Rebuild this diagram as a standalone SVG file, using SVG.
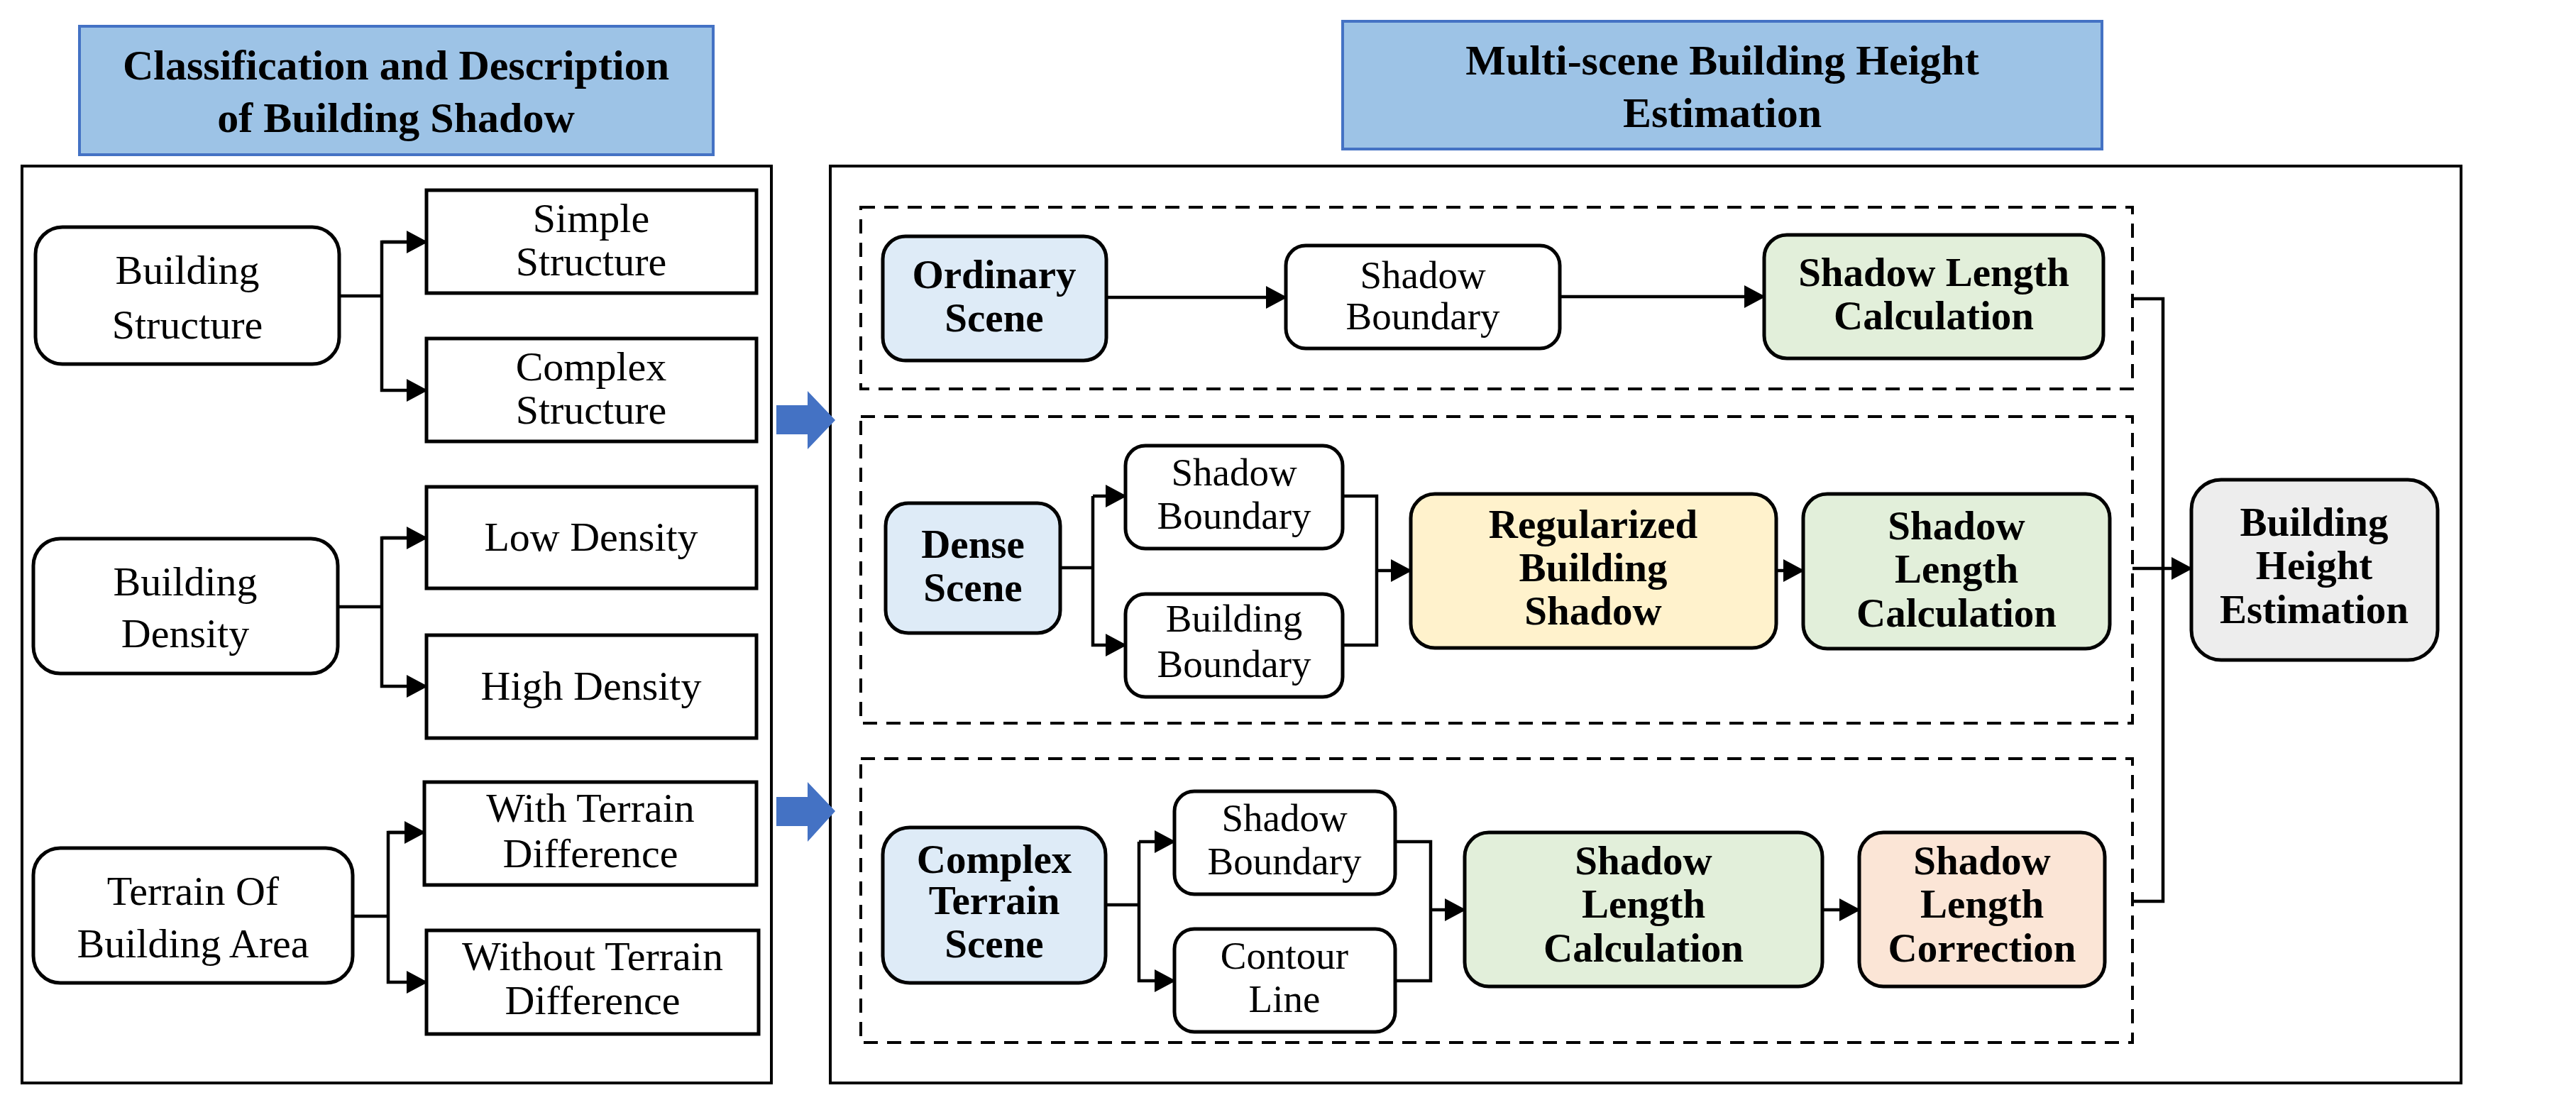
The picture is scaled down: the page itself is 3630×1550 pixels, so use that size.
<svg xmlns="http://www.w3.org/2000/svg" width="3630" height="1550" viewBox="0 0 3630 1550">
<style>
text{font-family:"Liberation Serif","Times New Roman",serif;text-anchor:middle;fill:#000}
.t{font-size:60px;font-weight:bold}
.l{font-size:58px}
.r{font-size:55px}
.b{font-size:57px;font-weight:bold}
.box{fill:#fff;stroke:#000;stroke-width:5}
.dash{fill:none;stroke:#000;stroke-width:4;stroke-dasharray:20 13}
.c{fill:none;stroke:#000;stroke-width:4.5}
.ttl{fill:#9dc3e6;stroke:#4472c4;stroke-width:4}
</style>
<defs>
<marker id="a" markerUnits="userSpaceOnUse" markerWidth="30" markerHeight="32" refX="28" refY="16" orient="auto"><path d="M0,0L30,16L0,32Z" fill="#000"/></marker>
</defs>
<g id="title-left"><rect class="ttl" x="112" y="37" width="893" height="181"/><text class="t" x="558" y="112">Classification and Description</text><text class="t" x="558" y="186">of Building Shadow</text></g>
<g id="title-right"><rect class="ttl" x="1892" y="30" width="1070" height="180"/><text class="t" x="2427" y="105">Multi-scene Building Height</text><text class="t" x="2427" y="179">Estimation</text></g>
<g id="panel-left"><rect x="31" y="234" width="1056" height="1292" fill="none" stroke="#000" stroke-width="4"/></g>
<g id="panel-right"><rect x="1170" y="234" width="2298" height="1292" fill="none" stroke="#000" stroke-width="4"/></g>
<g id="scene-boxes"><rect class="dash" x="1213" y="292" width="1792" height="256"/><rect class="dash" x="1213" y="587" width="1792" height="432"/><rect class="dash" x="1213" y="1069" width="1792" height="400"/></g>
<g id="big-arrows" fill="#4472c4"><path d="M1094,571H1138V551L1177,592L1138,633V612H1094Z"/><path d="M1094,1123H1138V1102L1177,1143L1138,1186V1164H1094Z"/></g>
<g id="building-structure"><rect class="box" x="50" y="320" width="428" height="193" rx="38"/><text class="l" x="264" y="400">Building</text><text class="l" x="264" y="477">Structure</text></g>
<g id="simple-structure"><rect class="box" x="601" y="268" width="465" height="145"/><text class="l" x="833" y="327">Simple</text><text class="l" x="833" y="388">Structure</text></g>
<g id="complex-structure"><rect class="box" x="601" y="477" width="465" height="145"/><text class="l" x="833" y="536">Complex</text><text class="l" x="833" y="597">Structure</text></g>
<g id="building-density"><rect class="box" x="47" y="759" width="429" height="190" rx="38"/><text class="l" x="261" y="839">Building</text><text class="l" x="261" y="912">Density</text></g>
<g id="low-density"><rect class="box" x="601" y="686" width="465" height="143"/><text class="l" x="833" y="776">Low Density</text></g>
<g id="high-density"><rect class="box" x="601" y="895" width="465" height="145"/><text class="l" x="833" y="986">High Density</text></g>
<g id="terrain-area"><rect class="box" x="47" y="1195" width="450" height="190" rx="38"/><text class="l" x="272" y="1275">Terrain Of</text><text class="l" x="272" y="1349">Building Area</text></g>
<g id="with-terrain"><rect class="box" x="598" y="1102" width="468" height="145"/><text class="l" x="832" y="1158">With Terrain</text><text class="l" x="832" y="1222">Difference</text></g>
<g id="without-terrain"><rect class="box" x="601" y="1311" width="468" height="146"/><text class="l" x="835" y="1367">Without Terrain</text><text class="l" x="835" y="1429">Difference</text></g>
<g id="ordinary-scene"><rect class="box" x="1244" y="333" width="315" height="175" rx="32" fill="#deebf7" style="fill:#deebf7"/><text class="b" x="1401" y="406">Ordinary</text><text class="b" x="1401" y="467">Scene</text></g>
<g id="shadow-boundary-1"><rect class="box" x="1812" y="346" width="386" height="145" rx="28"/><text class="r" x="2005" y="406">Shadow</text><text class="r" x="2005" y="464">Boundary</text></g>
<g id="slc-1"><rect class="box" x="2486" y="331" width="478" height="174" rx="32" style="fill:#e2efda"/><text class="b" x="2725" y="403">Shadow Length</text><text class="b" x="2725" y="464">Calculation</text></g>
<g id="dense-scene"><rect class="box" x="1248" y="709" width="246" height="183" rx="32" style="fill:#deebf7"/><text class="b" x="1371" y="786">Dense</text><text class="b" x="1371" y="847">Scene</text></g>
<g id="shadow-boundary-2"><rect class="box" x="1586" y="628" width="306" height="145" rx="28"/><text class="r" x="1739" y="684">Shadow</text><text class="r" x="1739" y="745">Boundary</text></g>
<g id="building-boundary"><rect class="box" x="1586" y="837" width="306" height="145" rx="28"/><text class="r" x="1739" y="890">Building</text><text class="r" x="1739" y="954">Boundary</text></g>
<g id="regularized"><rect class="box" x="1988" y="696" width="515" height="217" rx="34" style="fill:#fff2cc"/><text class="b" x="2245" y="758">Regularized</text><text class="b" x="2245" y="819">Building</text><text class="b" x="2245" y="880">Shadow</text></g>
<g id="slc-2"><rect class="box" x="2541" y="696" width="432" height="218" rx="34" style="fill:#e2efda"/><text class="b" x="2757" y="760">Shadow</text><text class="b" x="2757" y="821">Length</text><text class="b" x="2757" y="883">Calculation</text></g>
<g id="bhe"><rect class="box" x="3088" y="676" width="347" height="254" rx="42" style="fill:#ededed"/><text class="b" x="3261" y="755">Building</text><text class="b" x="3261" y="816">Height</text><text class="b" x="3261" y="878">Estimation</text></g>
<g id="complex-terrain"><rect class="box" x="1244" y="1166" width="314" height="219" rx="38" style="fill:#deebf7"/><text class="b" x="1401" y="1230">Complex</text><text class="b" x="1401" y="1288">Terrain</text><text class="b" x="1401" y="1349">Scene</text></g>
<g id="shadow-boundary-3"><rect class="box" x="1655" y="1115" width="311" height="145" rx="28"/><text class="r" x="1810" y="1171">Shadow</text><text class="r" x="1810" y="1232">Boundary</text></g>
<g id="contour-line"><rect class="box" x="1655" y="1309" width="311" height="145" rx="28"/><text class="r" x="1810" y="1365">Contour</text><text class="r" x="1810" y="1426">Line</text></g>
<g id="slc-3"><rect class="box" x="2064" y="1173" width="504" height="217" rx="34" style="fill:#e2efda"/><text class="b" x="2316" y="1232">Shadow</text><text class="b" x="2316" y="1293">Length</text><text class="b" x="2316" y="1355">Calculation</text></g>
<g id="slcorr"><rect class="box" x="2620" y="1173" width="346" height="217" rx="34" style="fill:#fbe5d6"/><text class="b" x="2793" y="1232">Shadow</text><text class="b" x="2793" y="1293">Length</text><text class="b" x="2793" y="1355">Correction</text></g>
<g id="connectors">
<path class="c" d="M478,417H538"/><path class="c" d="M601,341H538V550H601" marker-end="url(#a)"/><path class="c" d="M538,341H601" marker-end="url(#a)"/>
<path class="c" d="M476,855H538"/><path class="c" d="M601,758H538V967H601" marker-end="url(#a)"/><path class="c" d="M538,758H601" marker-end="url(#a)"/>
<path class="c" d="M497,1291H547"/><path class="c" d="M598,1173H547V1384H601" marker-end="url(#a)"/><path class="c" d="M547,1173H598" marker-end="url(#a)"/>
<path class="c" d="M1559,419H1812" marker-end="url(#a)"/>
<path class="c" d="M2198,418H2486" marker-end="url(#a)"/>
<path class="c" d="M1494,800H1540"/><path class="c" d="M1540,699V909H1586" marker-end="url(#a)"/><path class="c" d="M1540,699H1586" marker-end="url(#a)"/>
<path class="c" d="M1892,699H1940V909H1892"/><path class="c" d="M1940,804H1988" marker-end="url(#a)"/>
<path class="c" d="M2503,804H2541" marker-end="url(#a)"/>
<path class="c" d="M1558,1275H1605"/><path class="c" d="M1605,1186V1382H1655" marker-end="url(#a)"/><path class="c" d="M1605,1186H1655" marker-end="url(#a)"/>
<path class="c" d="M1966,1186H2016V1382H1966"/><path class="c" d="M2016,1282H2064" marker-end="url(#a)"/>
<path class="c" d="M2568,1282H2620" marker-end="url(#a)"/>
<path class="c" d="M3005,421H3048V1270H3005"/><path class="c" d="M3005,801H3088" marker-end="url(#a)"/>
</g>
</svg>
